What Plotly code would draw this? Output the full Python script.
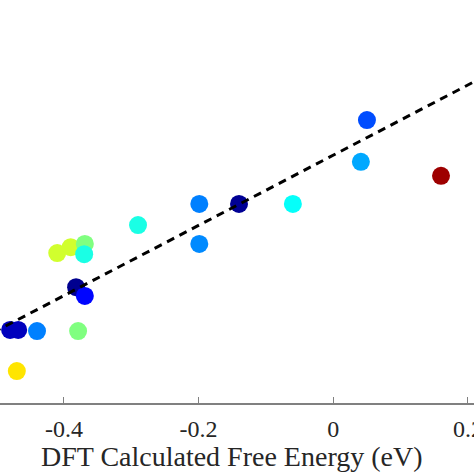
import plotly.graph_objects as go

# DFT calculated free energy (eV)
dft_energy = [-0.480, -0.468, -0.440, -0.379, -0.470, -0.410, -0.390, -0.369, -0.370,
              -0.382, -0.369, -0.290, -0.199, -0.140, -0.199, -0.060, 0.050, 0.041, 0.160]
# Predicted free energy (eV)
pred_energy = [-0.498, -0.498, -0.501, -0.501, -0.615, -0.279, -0.262, -0.253, -0.282,
               -0.376, -0.401, -0.199, -0.139, -0.139, -0.253, -0.139, 0.100, -0.019, -0.059]
# colour variable (normalised)
color_value = [0.06, 0.06, 0.25, 0.50, 0.65, 0.58, 0.58, 0.50, 0.40,
               0.015, 0.13, 0.40, 0.25, 0.02, 0.26, 0.38, 0.20, 0.29, 0.97]

# parity line
line_x = [-0.8, 0.5]
line_y = [-0.8, 0.5]

tick_vals = [-0.4, -0.2, 0, 0.2]
tick_text = ["-0.4", "-0.2", "0", "0.2"]
x_title = "DFT Calculated Free Energy (eV)"

matlab_jet = [
    [0.0, "rgb(0,0,128)"],
    [0.125, "rgb(0,0,255)"],
    [0.375, "rgb(0,255,255)"],
    [0.625, "rgb(255,255,0)"],
    [0.875, "rgb(255,0,0)"],
    [1.0, "rgb(128,0,0)"],
]

fig = go.Figure()
fig.add_trace(go.Scatter(
    x=dft_energy, y=pred_energy, mode="markers",
    marker=dict(size=18, color=color_value, colorscale=matlab_jet, cmin=0, cmax=1,
                line=dict(width=0), showscale=False),
    showlegend=False, cliponaxis=False,
))
fig.add_trace(go.Scatter(
    x=line_x, y=line_y, mode="lines",
    line=dict(color="black", width=3, dash="8px,6px"),
    showlegend=False,
))

fig.add_annotation(
    text=x_title, xref="paper", yref="paper", x=0.4895, y=0,
    xanchor="center", yanchor="bottom", yshift=-71, showarrow=False,
    font=dict(family="Liberation Serif", size=28, color="#262626"),
)

fig.update_layout(
    width=474, height=474,
    margin=dict(l=0, r=0, t=0, b=71),
    paper_bgcolor="white", plot_bgcolor="white",
    template="none",
    font=dict(family="Liberation Serif", color="#262626"),
    xaxis=dict(
        range=[-0.495, 0.209], automargin=False,
        tickvals=tick_vals, ticktext=tick_text,
        ticks="inside", ticklen=6, tickwidth=1, tickcolor="#808080",
        showline=True, linecolor="#808080", linewidth=1.5,
        showgrid=False, zeroline=False,
        ticklabeloverflow="allow", ticklabelstandoff=3,
        tickfont=dict(family="Liberation Serif", size=24, color="#262626"),
    ),
    yaxis=dict(
        range=[-0.706, 0.442], automargin=False,
        showline=False, showticklabels=False, showgrid=False, zeroline=False, ticks="",
    ),
)

fig.write_html("out.html")
